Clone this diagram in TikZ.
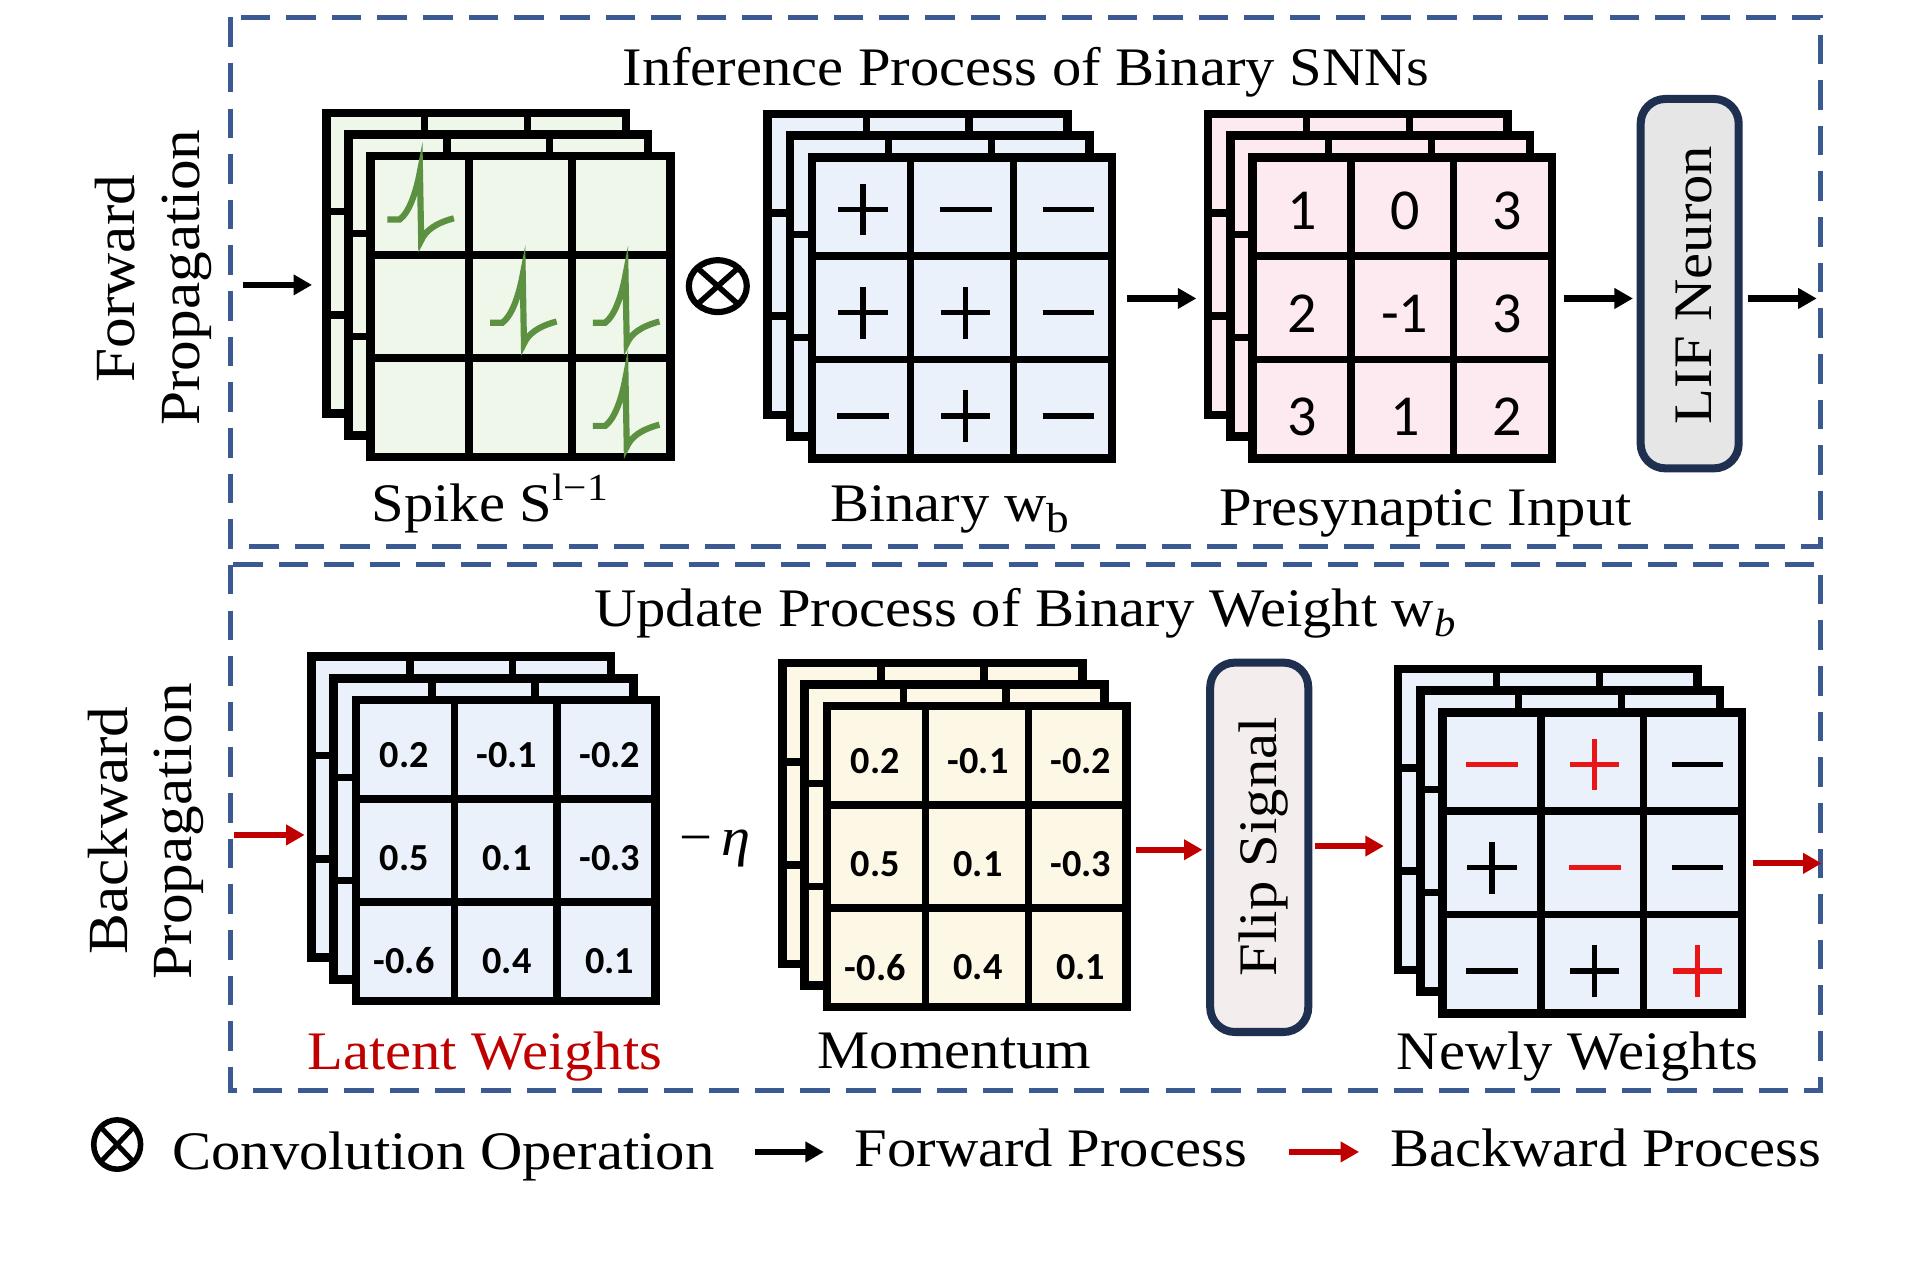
\documentclass[tikz,border=0pt]{standalone}
\usepackage{fontspec}
\setmainfont{Liberation Serif}[FakeStretch=1.08]
\newfontfamily\numfont{Carlito}
\usetikzlibrary{arrows.meta}

\definecolor{dashblue}{RGB}{59,90,147}
\definecolor{navyb}{RGB}{30,47,80}
\definecolor{darkredc}{RGB}{192,0,0}
\definecolor{symred}{RGB}{232,22,22}
\definecolor{spikegreen}{RGB}{91,145,64}
\definecolor{spikefill}{RGB}{239,246,234}
\definecolor{bluefill}{RGB}{234,241,251}
\definecolor{pinkfill}{RGB}{252,234,240}
\definecolor{creamfill}{RGB}{253,248,230}
\definecolor{lifgray}{RGB}{230,230,230}
\definecolor{flipfill}{RGB}{243,237,237}

\tikzset{
  lbl/.style={font=\fontsize{44}{50}\selectfont, inner sep=0pt},
  vlbl/.style={font=\fontsize{46}{52}\selectfont, inner sep=0pt, rotate=90, anchor=base},
  dashbox/.style={draw=dashblue, line width=4pt, dash pattern=on 24pt off 13pt},
  fwd/.style={draw=black, line width=5pt, -{Triangle[length=15pt,width=16pt]}},
  bwd/.style={draw=darkredc, line width=5pt, -{Triangle[length=15pt,width=16pt]}},
  procbox/.style={draw=navyb, line width=6.5pt, rounded corners=20pt, inner sep=0pt,
                  minimum width=79.5pt, minimum height=299.5pt},
  pmline/.style={line width=4.5pt},
  spikeline/.style={draw=spikegreen, line width=5pt},
  digit/.style={font=\numfont\fontsize{47}{50}\selectfont, inner sep=0pt},
  latdigit/.style={font=\numfont\bfseries\fontsize{31}{34}\selectfont, inner sep=0pt},
  convring/.style={draw=black, line width=5pt},
}

% one 3x3 layer, #1,#2 = outer top-left, #3 = fill colour
\newcommand\gridlayer[3]{%
  \filldraw[fill=#3, draw=black, line width=7pt] ({#1+3.5},{#2+3.5}) rectangle ({#1+246.5},{#2+247.5});
  \draw[line width=6pt]
    ({#1+83.33},{#2+3.5}) -- ({#1+83.33},{#2+247.5})
    ({#1+166.67},{#2+3.5}) -- ({#1+166.67},{#2+247.5})
    ({#1+3.5},{#2+83.67}) -- ({#1+246.5},{#2+83.67})
    ({#1+3.5},{#2+167.33}) -- ({#1+246.5},{#2+167.33});}
\newcommand\gridstack[3]{%
  \gridlayer{#1-36}{#2-35}{#3}%
  \gridlayer{#1-18}{#2-17.5}{#3}%
  \gridlayer{#1}{#2}{#3}}
% plus / minus symbol: #1 = p or m, #2,#3 centre, #4 colour
\newcommand\pmsym[4]{%
  \if#1p\draw[pmline,#4] ({#2-20},#3) -- ({#2+20},#3) (#2,{#3-21}) -- (#2,{#3+21});%
  \else\draw[pmline,#4] ({#2-21},#3) -- ({#2+21},#3);\fi}
% spike glyph in cell with top-left #1,#2
\newcommand\spikeat[2]{%
  \draw[spikeline] ({#1+17},{#2+55}) -- ({#1+27},{#2+55})
    .. controls ({#1+34},{#2+50}) and ({#1+40},{#2+35}) .. ({#1+43.5},{#2+16})
    -- ({#1+44.5},{#2+72})
    .. controls ({#1+48},{#2+64}) and ({#1+56},{#2+58}) .. ({#1+71},{#2+54});}

\begin{document}
\begin{tikzpicture}[x=1pt,y=-1pt]
\useasboundingbox (0,0) rectangle (1560,1038);
\fill[white] (0,0) rectangle (1560,1038);

% dashed frames
\draw[dashbox] (187,14) rectangle (1476,443);
\draw[dashbox] (187,458) rectangle (1476,884);

% titles
\node[lbl, anchor=base] (title1) at (832,69) {Inference Process of Binary SNNs};
\node[lbl, anchor=base] (title2) at (831,508) {Update Process of Binary Weight w\raisebox{-8pt}{\fontsize{32}{32}\selectfont\itshape b}};

% side labels
\node[vlbl] (fwdA) at (109,226) {Forward};
\node[vlbl] (fwdB) at (162,225) {Propagation};
\node[vlbl] (bwdA) at (103,673.5) {Backward};
\node[vlbl] (bwdB) at (155,674) {Propagation};

% ---------- top row ----------
\gridstack{297}{123}{spikefill}
\spikeat{297}{123}
\spikeat{380.33}{206.67}
\spikeat{463.67}{206.67}
\spikeat{463.67}{290.33}

\gridstack{655}{124}{bluefill}
\foreach \s [count=\k from 0] in {p,m,m,p,p,m,m,p,m} {
  \pgfmathsetmacro\cx{655+41.67+83.33*mod(\k,3)+3}
  \pgfmathsetmacro\cy{124+41.83+83.67*floor(\k/3)+4}
  \pmsym{\s}{\cx}{\cy}{black}
}

\gridstack{1012}{124}{pinkfill}
\foreach \v [count=\k from 0] in {1,0,3,2,-1,3,3,1,2} {
  \pgfmathsetmacro\cx{1012+41.67+83.33*mod(\k,3)+2}
  \pgfmathsetmacro\cy{124+41.83+83.67*floor(\k/3)+5}
  \node[digit] (pre\k) at (\cx,\cy) {\v};
}

% convolution symbol
\draw[convring] (582,232) ellipse [x radius=23.5, y radius=21];
\draw[line width=4.5pt] (565.4,217.2) -- (598.6,246.8) (598.6,217.2) -- (565.4,246.8);

% LIF neuron
\node[procbox, fill=lifgray] (lif) at (1370,230) {};
\node[vlbl, font=\fontsize{44}{50}\selectfont] (liftext) at (1388,231) {LIF Neuron};

% top labels
\node[lbl, anchor=base] (spikelbl) at (397,423) {Spike S\raisebox{17pt}{\fontsize{31}{31}\selectfont l−1}};
\node[lbl, anchor=base] (binlbl) at (770,423) {Binary w\raisebox{-9pt}{\fontsize{34}{34}\selectfont b}};
\node[lbl, anchor=base] (prelbl) at (1156,426) {Presynaptic Input};

% top arrows
\coordinate (i1) at (197,231); \coordinate (i2) at (253,231);
\coordinate (p1) at (914,242); \coordinate (p2) at (970,242);
\coordinate (q1) at (1268,242); \coordinate (q2) at (1324,242);
\coordinate (r1) at (1417,242); \coordinate (r2) at (1473,242);
\draw[fwd] (i1) -- (i2);
\draw[fwd] (p1) -- (p2);
\draw[fwd] (q1) -- (q2);
\draw[fwd] (r1) -- (r2);

% ---------- bottom row ----------
\gridstack{285}{564}{bluefill}
\foreach \v [count=\k from 0] in {0.2,-0.1,-0.2,0.5,0.1,-0.3,-0.6,0.4,0.1} {
  \pgfmathsetmacro\cx{285+41.67+83.33*mod(\k,3)+1}
  \pgfmathsetmacro\cy{564+41.83+83.67*floor(\k/3)+6}
  \node[latdigit] (lat\k) at (\cx,\cy) {\v};
}

\node[lbl, anchor=base] (eta) at (580,694) {−\,\textit{η}};

\gridstack{667}{569}{creamfill}
\foreach \v [count=\k from 0] in {0.2,-0.1,-0.2,0.5,0.1,-0.3,-0.6,0.4,0.1} {
  \pgfmathsetmacro\cx{667+41.67+83.33*mod(\k,3)+1}
  \pgfmathsetmacro\cy{569+41.83+83.67*floor(\k/3)+6}
  \node[latdigit] (mom\k) at (\cx,\cy) {\v};
}

\node[procbox, fill=flipfill] (flip) at (1021,687) {};
\node[vlbl, font=\fontsize{44}{50}\selectfont] (fliptext) at (1035,686.5) {Flip Signal};

\gridstack{1166}{574}{bluefill}
\foreach \s/\c [count=\k from 0] in {m/symred,p/symred,m/black,p/black,m/symred,m/black,m/black,p/black,p/symred} {
  \pgfmathsetmacro\cx{1166+41.67+83.33*mod(\k,3)+2}
  \pgfmathsetmacro\cy{574+41.83+83.67*floor(\k/3)+4}
  \pmsym{\s}{\cx}{\cy}{\c}
}

% bottom labels
\node[lbl, anchor=base, text=darkredc] (latlbl) at (393,867) {Latent Weights};
\node[lbl, anchor=base] (momlbl) at (774,866) {Momentum};
\node[lbl, anchor=base] (newlbl) at (1279,867) {Newly Weights};

% bottom arrows
\coordinate (b1s) at (190,677); \coordinate (b1e) at (247,677);
\coordinate (b2s) at (921,689); \coordinate (b2e) at (975,689);
\coordinate (b3s) at (1066,686); \coordinate (b3e) at (1122,686);
\coordinate (b4s) at (1421,700); \coordinate (b4e) at (1477,700);
\draw[bwd] (b1s) -- (b1e);
\draw[bwd] (b2s) -- (b2e);
\draw[bwd] (b3s) -- (b3e);
\draw[bwd] (b4s) -- (b4e);

% ---------- legend ----------
\draw[line width=4.5pt] (95,928) ellipse [x radius=19, y radius=20];
\draw[line width=4pt] (81.6,913.9) -- (108.4,942.1) (108.4,913.9) -- (81.6,942.1);
\node[lbl, anchor=base] (lg1) at (359.5,948) {Convolution Operation};
\coordinate (l1s) at (612,934); \coordinate (l1e) at (668,934);
\draw[fwd] (l1s) -- (l1e);
\node[lbl, anchor=base] (lg2) at (852,946) {Forward Process};
\coordinate (l2s) at (1045,934); \coordinate (l2e) at (1102,934);
\draw[bwd] (l2s) -- (l2e);
\node[lbl, anchor=base] (lg3) at (1302,946) {Backward Process};
\end{tikzpicture}
\end{document}
